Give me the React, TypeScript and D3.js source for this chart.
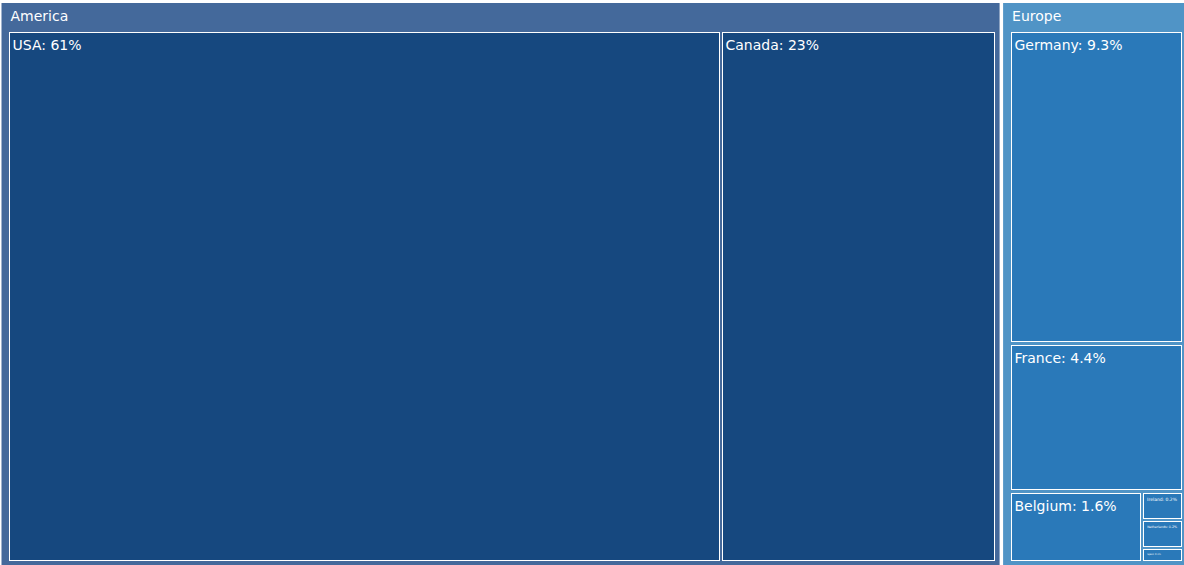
import React, { useMemo } from "react";
import * as d3 from "d3";

// ---- data ----
const regions = ["America", "Europe"];
const americaCountries = ["USA", "Canada"];
const americaValues = [60.6, 23.4];
const europeCountries = ["Germany", "France", "Belgium", "Ireland", "Netherlands", "Spain"];
const europeValues = [9.3, 4.4, 1.6, 0.2, 0.2, 0.1];

// ---- style ----
const WIDTH = 1184;
const HEIGHT = 565;
const FONT = '"DejaVu Sans", Verdana, sans-serif';
const BASE_FONT = 14;
const headerColors: Record<string, string> = { America: "#44699b", Europe: "#5094c6" };
const leafColors: Record<string, string> = { America: "#16487f", Europe: "#2a79b9" };
const rightPad: Record<string, number> = { America: 5, Europe: 6.5 };

let measureCtx: CanvasRenderingContext2D | null = null;
function textWidth(t: string, size: number) {
  if (!measureCtx) measureCtx = document.createElement("canvas").getContext("2d");
  if (!measureCtx) return t.length * size * 0.6;
  measureCtx.font = `${size}px ${FONT}`;
  return measureCtx.measureText(t).width;
}

const snap = (v: number) => Math.floor(v) + 0.5;

type Datum = { name: string; value?: number; children?: Datum[] };

export default function App() {
  const { parents, leaves } = useMemo(() => {
    const data: Datum = {
      name: "root",
      children: [
        { name: regions[0], children: americaCountries.map((c, i) => ({ name: c, value: americaValues[i] })) },
        { name: regions[1], children: europeCountries.map((c, i) => ({ name: c, value: europeValues[i] })) },
      ],
    };
    const root = d3
      .hierarchy<Datum>(data)
      .sum((d) => d.value ?? 0)
      .sort((a, b) => (b.value ?? 0) - (a.value ?? 0));
    const total = root.value ?? 1;
    d3
      .treemap<Datum>()
      .tile(d3.treemapSquarify.ratio(1))
      .size([1186.5, 562])
      .paddingInner(3.5)
      .paddingTop((n) => (n.depth === 1 ? 29 : 0))
      .paddingLeft((n) => (n.depth === 1 ? 8 : 0))
      .paddingRight((n) => (n.depth === 1 ? rightPad[n.data.name] ?? 5 : 0))
      .paddingBottom((n) => (n.depth === 1 ? 4.5 : 0))(root);
    const fmt = d3.format(".2~r");
    const ox = 1.5;
    const oy = 3;
    const rn = root as d3.HierarchyRectangularNode<Datum>;
    const parents = (rn.children ?? []).map((n) => ({
      name: n.data.name,
      x0: n.x0 + ox,
      y0: n.y0 + oy,
      x1: n.x1 + ox,
      y1: n.y1 + oy,
    }));
    const leaves = rn.leaves().map((n) => {
      const label = `${n.data.name}: ${fmt(((n.value ?? 0) / total) * 100)}%`;
      const x0 = snap(n.x0 + ox);
      const y0 = snap(n.y0 + oy);
      const x1 = snap(n.x1 + ox);
      const y1 = snap(n.y1 + oy);
      const w = x1 - x0;
      const h = y1 - y0;
      const tw = textWidth(label, BASE_FONT);
      const s = Math.min(1, (w - 8) / tw, (h - 8) / (BASE_FONT * 1.3));
      return {
        name: n.data.name,
        region: n.parent!.data.name,
        label,
        size: BASE_FONT * Math.max(s, 0.05),
        x0,
        y0,
        x1,
        y1,
      };
    });
    return { parents, leaves };
  }, []);

  return (
    <svg
      width={WIDTH}
      height={HEIGHT}
      style={{ position: "absolute", left: 0, top: 0, display: "block", background: "#fff" }}
      fontFamily={FONT}
    >
      {parents.map((p) => (
        <g key={p.name}>
          <rect x={p.x0} y={p.y0} width={p.x1 - p.x0} height={p.y1 - p.y0} fill={headerColors[p.name]} />
          <text x={p.x0 + 9} y={p.y0 + 17.5} fill="#fff" fontSize={BASE_FONT}>
            {p.name}
          </text>
        </g>
      ))}
      {leaves.map((l) => (
        <g key={l.name}>
          <rect
            x={l.x0}
            y={l.y0}
            width={l.x1 - l.x0}
            height={l.y1 - l.y0}
            fill={leafColors[l.region]}
            stroke="#fff"
            strokeWidth={1}
          />
          <text x={l.x0 + 3 + (BASE_FONT - l.size) * 0.06} y={l.y0 + 3 + l.size * 1.07} fill="#fff" fontSize={l.size}>
            {l.label}
          </text>
        </g>
      ))}
    </svg>
  );
}
